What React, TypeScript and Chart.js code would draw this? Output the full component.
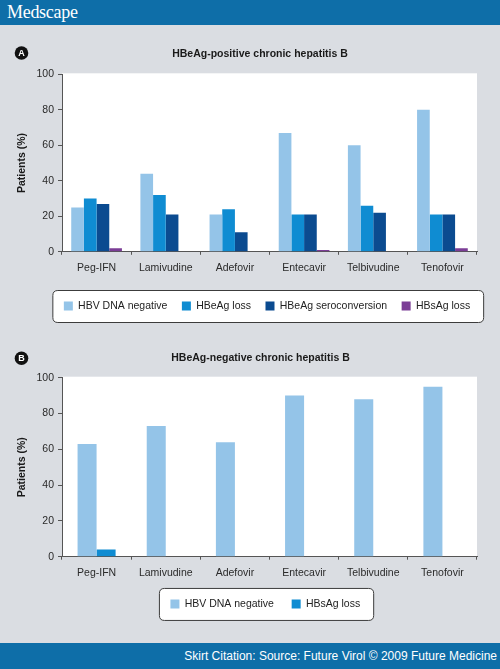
import React, { useEffect, useRef } from "react";
import { Chart, registerables } from "chart.js";

Chart.register(...registerables);

// ---------- data ----------
const categories = ["Peg-IFN", "Lamivudine", "Adefovir", "Entecavir", "Telbivudine", "Tenofovir"];
const yTicks = [0, 20, 40, 60, 80, 100];

const titleA = "HBeAg-positive chronic hepatitis B";
const titleB = "HBeAg-negative chronic hepatitis B";
const yTitle = "Patients (%)";

const seriesNamesA = ["HBV DNA negative", "HBeAg loss", "HBeAg seroconversion", "HBsAg loss"];
const aHbvDnaNegative = [25, 44, 21, 67, 60, 80];
const aHbeagLoss = [30, 32, 24, 21, 26, 21];
const aHbeagSeroconversion = [27, 21, 11, 21, 22, 21];
const aHbsagLoss = [2, 0, 0, 1, 0, 2];

const seriesNamesB = ["HBV DNA negative", "HBsAg loss"];
const bHbvDnaNegative = [63, 73, 64, 90, 88, 95];
const bHbsagLoss = [4, 0, 0, 0, 0, 0];

// ---------- styles ----------
const LIGHT = "#94c4e8";
const MID = "#0f8cd2";
const DARK = "#0b4b90";
const PURPLE = "#7b3d96";
const BLUE_BAR = "#0e6ea8";
const PAGE_BG = "#dadde2";
const AXIS = "#555";
const FONT = "'Liberation Sans', Arial, Helvetica, sans-serif";

Chart.defaults.font.family = FONT;
Chart.defaults.font.size = 10.5;
Chart.defaults.color = "#2a2a2a";

type DecorCfg = { badge: string; title: string; titleX: number; titleY: number; badgeY: number };

function makeDecor(cfg: DecorCfg) {
  return {
    id: "panelDecor",
    beforeDraw(chart: any) {
      const { ctx, chartArea } = chart;
      ctx.save();
      // white plot area
      ctx.fillStyle = "#ffffff";
      ctx.fillRect(chartArea.left, chartArea.top - 1, chartArea.right - chartArea.left, chartArea.bottom - chartArea.top + 1);
      // legend frame
      const hb = chart.legend && chart.legend.legendHitBoxes;
      if (hb && hb.length) {
        const l = Math.min(...hb.map((h: any) => h.left)) - 11;
        const r = Math.max(...hb.map((h: any) => h.left + h.width)) + 13.5;
        const t = hb[0].top - 10.3;
        const b = hb[0].top + 21.7;
        const rad = 5;
        ctx.beginPath();
        ctx.moveTo(l + rad, t);
        ctx.lineTo(r - rad, t);
        ctx.quadraticCurveTo(r, t, r, t + rad);
        ctx.lineTo(r, b - rad);
        ctx.quadraticCurveTo(r, b, r - rad, b);
        ctx.lineTo(l + rad, b);
        ctx.quadraticCurveTo(l, b, l, b - rad);
        ctx.lineTo(l, t + rad);
        ctx.quadraticCurveTo(l, t, l + rad, t);
        ctx.closePath();
        ctx.fillStyle = "#ffffff";
        ctx.fill();
        ctx.strokeStyle = "#3c3c3c";
        ctx.lineWidth = 1;
        ctx.stroke();
      }
      // badge
      ctx.beginPath();
      ctx.arc(21.5, cfg.badgeY, 6.8, 0, Math.PI * 2);
      ctx.fillStyle = "#111";
      ctx.fill();
      ctx.fillStyle = "#fff";
      ctx.font = `bold 9px ${FONT}`;
      ctx.textAlign = "center";
      ctx.textBaseline = "middle";
      ctx.fillText(cfg.badge, 21.5, cfg.badgeY + 0.5);
      // title
      ctx.fillStyle = "#1a1a1a";
      ctx.font = `bold 10.5px ${FONT}`;
      ctx.fillText(cfg.title, cfg.titleX, cfg.titleY);
      ctx.restore();
    },
  };
}

type PanelProps = {
  datasets: any[];
  decor: DecorCfg;
  padding: { left: number; right: number; top: number; bottom: number };
  xAxisHeight: number;
  spacerWidth: number;
  legendPadding: number;
  categoryPercentage: number;
};

function Panel(props: PanelProps) {
  const ref = useRef<HTMLCanvasElement | null>(null);
  useEffect(() => {
    if (!ref.current) return;
    const chart = new Chart(ref.current, {
      type: "bar",
      data: { labels: categories, datasets: props.datasets },
      options: {
        animation: false,
        responsive: true,
        maintainAspectRatio: false,
        layout: { padding: props.padding },
        datasets: {
          bar: {
            categoryPercentage: props.categoryPercentage,
            barPercentage: 1,
            borderWidth: 0,
          },
        },
        scales: {
          x: {
            type: "category",
            offset: true,
            grid: { offset: true, drawOnChartArea: false, drawTicks: true, tickLength: 3, color: AXIS },
            border: { display: true, color: AXIS, width: 1 },
            ticks: { padding: 7, color: "#2a2a2a", font: { size: 10.5 }, maxRotation: 0, autoSkip: false },
            afterFit: (s: any) => {
              s.height = props.xAxisHeight;
            },
          },
          y: {
            type: "linear",
            position: "left",
            min: 0,
            max: 100,
            afterBuildTicks: (s: any) => {
              s.ticks = yTicks.map((v) => ({ value: v }));
            },
            grid: { drawOnChartArea: false, drawTicks: true, tickLength: 4, color: AXIS },
            border: { display: true, color: AXIS, width: 1 },
            ticks: { padding: 4, color: "#2a2a2a", font: { size: 10.5 } },
            title: {
              display: true,
              text: yTitle,
              color: "#1a1a1a",
              font: { size: 10.5, weight: "bold" },
              padding: { top: 0, bottom: 0 },
            },
            afterFit: (s: any) => {
              s.width = 46;
            },
          },
          spacer: {
            type: "linear",
            position: "right",
            display: true,
            grid: { display: false, drawTicks: false },
            border: { display: false },
            ticks: { display: false },
            afterFit: (s: any) => {
              s.width = props.spacerWidth;
            },
          },
        },
        plugins: {
          title: { display: false },
          tooltip: { enabled: false },
          legend: {
            display: true,
            position: "bottom",
            fullSize: true,
            labels: {
              boxWidth: 9,
              boxHeight: 9,
              padding: props.legendPadding,
              color: "#222",
              font: { size: 10.5 },
            },
          },
        },
      } as any,
      plugins: [makeDecor(props.decor)],
    });
    return () => chart.destroy();
  }, []);
  return <canvas ref={ref} />;
}

const datasetsA = [
  { label: seriesNamesA[0], data: aHbvDnaNegative, backgroundColor: LIGHT, yAxisID: "y" },
  { label: seriesNamesA[1], data: aHbeagLoss, backgroundColor: MID, yAxisID: "y" },
  { label: seriesNamesA[2], data: aHbeagSeroconversion, backgroundColor: DARK, yAxisID: "y" },
  { label: seriesNamesA[3], data: aHbsagLoss, backgroundColor: PURPLE, yAxisID: "y" },
];

const datasetsB = [
  { label: seriesNamesB[0], data: bHbvDnaNegative, backgroundColor: LIGHT, yAxisID: "y" },
  { label: seriesNamesB[1], data: bHbsagLoss, backgroundColor: MID, yAxisID: "y" },
];

export default function App() {
  return (
    <div
      style={{
        position: "absolute",
        left: 0,
        top: 0,
        width: 500,
        height: 669,
        overflow: "hidden",
        background: PAGE_BG,
        fontFamily: FONT,
      }}
    >
      <div
        style={{
          position: "absolute",
          left: 0,
          top: 0,
          width: 500,
          height: 25,
          background: BLUE_BAR,
          color: "#fff",
          fontFamily: "'Liberation Serif', 'DejaVu Serif', serif",
          fontSize: 18,
          lineHeight: "25px",
          paddingLeft: 7,
          boxSizing: "border-box",
          letterSpacing: -0.3,
        }}
      >
        Medscape
      </div>

      <div style={{ position: "absolute", left: 0, top: 25, width: 520, height: 299 }}>
        <Panel
          datasets={datasetsA}
          decor={{ badge: "A", title: titleA, titleX: 260, titleY: 29.5, badgeY: 28 }}
          padding={{ left: 16, right: 2, top: 49.3, bottom: 2.7 }}
          xAxisHeight={34.5}
          spacerWidth={41}
          legendPadding={14.5}
          categoryPercentage={0.733}
        />
      </div>

      <div style={{ position: "absolute", left: 0, top: 330, width: 520, height: 292 }}>
        <Panel
          datasets={datasetsB}
          decor={{ badge: "B", title: titleB, titleX: 260.5, titleY: 28, badgeY: 28.3 }}
          padding={{ left: 16, right: 5.4, top: 47.7, bottom: 2.75 }}
          xAxisHeight={24.35}
          spacerWidth={37.6}
          legendPadding={17.7}
          categoryPercentage={0.55}
        />
      </div>

      <div
        style={{
          position: "absolute",
          left: 0,
          top: 643,
          width: 500,
          height: 26,
          background: BLUE_BAR,
          color: "#fff",
          fontSize: 12,
          lineHeight: "26px",
          textAlign: "right",
          paddingRight: 3,
          boxSizing: "border-box",
        }}
      >
        Skirt Citation: Source: Future Virol © 2009 Future Medicine
      </div>
    </div>
  );
}
